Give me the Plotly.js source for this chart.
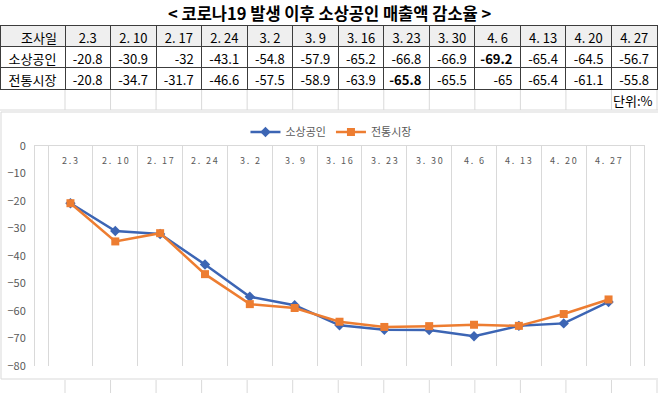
<!DOCTYPE html>
<html><head><meta charset="utf-8">
<script src="https://cdn.plot.ly/plotly-3.0.1.min.js"></script>
<style>html,body{margin:0;padding:0;background:#fff;} #chart{width:658px;height:393px;}</style>
</head><body><div id="chart"></div>
<script>
// ---- data ----
const chartTitle = "< 코로나19 발생 이후 소상공인 매출액 감소율 >";
const headerLabel = "조사일";
const dates = ["2.3","2. 10","2. 17","2. 24","3. 2","3. 9","3. 16","3. 23","3. 30","4. 6","4. 13","4. 20","4. 27"];
const seriesNames = ["소상공인","전통시장"];
const smallBiz = [-20.8,-30.9,-32,-43.1,-54.8,-57.9,-65.2,-66.8,-66.9,-69.2,-65.4,-64.5,-56.7];
const market = [-20.8,-34.7,-31.7,-46.6,-57.5,-58.9,-63.9,-65.8,-65.5,-65,-65.4,-61.1,-55.8];
const unitLabel = "단위:%";
const yTicks = [0,-10,-20,-30,-40,-50,-60,-70,-80];

// ---- layout helpers ----
const W = 658, H = 393;
const px = x => x / W, py = y => 1 - y / H;
const firstColW = 65, colW = (657 - 65) / 13;
const boundaries = [firstColW];
for (let i = 1; i <= dates.length; i++) boundaries.push(firstColW + colW * i);

const isMin = (arr, i) => arr[i] === Math.min(...arr);
const wt = (arr, i) => isMin(arr, i) ? 'bold' : 'normal';

const nb = s => s.replace(/ /g, '\u00a0');
const spaced = dates.map(d => d.split('').join('\u2009'));

const FONT = '"Noto Sans CJK KR", "Noto Sans", sans-serif';
const GRID = '#d9d9d9';

const tableTrace = {
  type: 'table',
  domain: {x: [0, 657 / W], y: [py(110), py(25)]},
  columnwidth: [firstColW].concat(dates.map(() => colW)),
  header: {
    values: [headerLabel].concat(dates.map(nb)),
    align: ['right'].concat(dates.map(() => 'center')),
    fill: {color: '#efefef'},
    line: {color: '#3c3c3c', width: 1},
    font: {family: FONT, size: 13, color: '#000'},
    height: 21
  },
  cells: {
    values: [seriesNames].concat(dates.map((d, i) => [String(smallBiz[i]), String(market[i])])),
    align: ['center'].concat(dates.map(() => 'right')),
    fill: {color: '#ffffff'},
    line: {color: '#3c3c3c', width: 1},
    font: {family: FONT, size: 13, color: '#000',
      weight: [['normal', 'normal']].concat(dates.map((d, i) => [wt(smallBiz, i), wt(market, i)]))},
    height: 21.5
  }
};

const t1 = {
  type: 'scatter', mode: 'lines+markers', name: seriesNames[0],
  x: dates, y: smallBiz,
  line: {color: '#3C65B4', width: 2.5},
  marker: {symbol: 'diamond', size: 8, color: '#3C65B4'},
  xaxis: 'x', yaxis: 'y'
};
const t2 = {
  type: 'scatter', mode: 'lines+markers', name: seriesNames[1],
  x: dates, y: market,
  line: {color: '#ED7D31', width: 2.5},
  marker: {symbol: 'square', size: 8, color: '#ED7D31'},
  xaxis: 'x', yaxis: 'y'
};

const shapes = [];
// chart frame
shapes.push({type: 'rect', xref: 'paper', yref: 'paper', x0: px(1), x1: px(700), y0: py(379), y1: py(112),
  line: {color: GRID, width: 1}, fillcolor: 'rgba(0,0,0,0)', layer: 'below'});
// spreadsheet gridlines of the unit row and bottom row
shapes.push({type: 'line', xref: 'paper', yref: 'paper', x0: 0, x1: 1, y0: py(110), y1: py(110), line: {color: GRID, width: 1}});
boundaries.forEach(b => {
  shapes.push({type: 'line', xref: 'paper', yref: 'paper', x0: px(b), x1: px(b), y0: py(110), y1: py(90), line: {color: GRID, width: 1}});
  shapes.push({type: 'line', xref: 'paper', yref: 'paper', x0: px(b), x1: px(b), y0: py(393), y1: py(380), line: {color: GRID, width: 1}});
});

const annotations = [
  {text: '<b>' + chartTitle + '</b>', xref: 'paper', yref: 'paper', x: 0.5, y: py(13),
    xanchor: 'center', yanchor: 'middle', showarrow: false, font: {family: FONT, size: 16.5, color: '#000'}},
  {text: unitLabel, xref: 'paper', yref: 'paper', x: px(655), y: py(100),
    xanchor: 'right', yanchor: 'middle', showarrow: false, font: {family: FONT, size: 13, color: '#000'}}
];
// category labels just below the axis line (Excel "next to axis" at 0)
dates.forEach((d, i) => {
  annotations.push({text: spaced[i], xref: 'x', yref: 'y', x: i, y: 0, yshift: -14,
    xanchor: 'center', yanchor: 'middle', showarrow: false,
    font: {family: FONT, size: 9, color: '#595959'}});
});

const layout = {
  width: W, height: H,
  margin: {l: 0, r: 0, t: 0, b: 0},
  paper_bgcolor: '#ffffff', plot_bgcolor: 'rgba(0,0,0,0)',
  font: {family: FONT, color: '#000'},
  showlegend: true,
  legend: {orientation: 'h', x: 0.503, xanchor: 'center', y: py(132), yanchor: 'middle',
    font: {family: FONT, size: 11, color: '#595959'}, bgcolor: 'rgba(0,0,0,0)', itemwidth: 30},
  xaxis: {
    domain: [px(35), px(644)], type: 'category', side: 'top', anchor: 'y',
    tickson: 'boundaries', showticklabels: false,
    showgrid: true, gridcolor: GRID, gridwidth: 1,
    showline: true, linecolor: GRID, linewidth: 1, ticks: '',
    fixedrange: true
  },
  yaxis: {
    domain: [1 - 366 / H, 1 - 146 / H], range: [-80, 0],
    tickmode: 'array', tickvals: yTicks,
    showgrid: false, zeroline: false, showline: true, mirror: true, linecolor: GRID, ticks: '',
    tickfont: {family: FONT, size: 11, color: '#595959'},
    ticklabelstandoff: 6, fixedrange: true
  },
  shapes: shapes,
  annotations: annotations
};

Plotly.newPlot('chart', [tableTrace, t1, t2], layout, {displayModeBar: false, staticPlot: true});
</script>
</body></html>
